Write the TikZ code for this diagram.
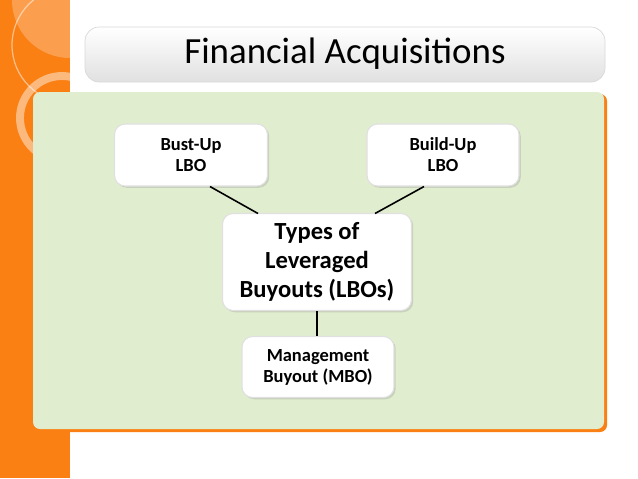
\documentclass[tikz,border=0pt]{standalone}
\usepackage{fontspec}
\setmainfont{Carlito}
\usetikzlibrary{shadows}
\definecolor{panel}{RGB}{224,237,207}
\definecolor{band}{RGB}{250,128,20}
\begin{document}
\begin{tikzpicture}[x=0.02cm,y=-0.02cm,
  box/.style={draw=black!12,line width=0.6pt,fill=white,rounded corners=6pt,font=\bfseries\fontsize{10.5}{12}\selectfont,align=center,inner sep=0pt,drop shadow={opacity=0.25,shadow xshift=1pt,shadow yshift=-1pt}},
  con/.style={line width=0.9pt,black}]
\useasboundingbox (0,0) rectangle (638,478);
\fill[white] (0,0) rectangle (638,478);
\fill[band] (0,0) rectangle (70,478);
\begin{scope}
\clip (0,0) rectangle (70,478);
\fill[white,opacity=0.25] (70,0) circle (58);
\draw[white,opacity=0.5,line width=0.7pt] (70,45) circle (58);
\draw[white,opacity=0.45,line width=4.5pt] (62,118) circle (42);
\end{scope}
\shade[top color=white,bottom color=black!12,rounded corners=8pt,draw=black!15] (85,27) rectangle (605,82);
\node (title) at (345,54) {\fontsize{21}{24}\selectfont Financial Acquisitions};
\fill[band,rounded corners=4pt] (35,94) rectangle (607,432);
\fill[panel,rounded corners=4pt] (33,92) rectangle (604,429);
\node[box,minimum width=3.06cm,minimum height=1.24cm] (bust) at (191,155) {Bust-Up\\LBO};
\node[box,minimum width=3.04cm,minimum height=1.24cm] (build) at (443,155) {Build-Up\\LBO};
\node[box,font=\bfseries\fontsize{14}{16.5}\selectfont,minimum width=3.78cm,minimum height=1.94cm] (types) at (317,262) {Types of\\Leveraged\\Buyouts (LBOs)};
\node[box,minimum width=3.04cm,minimum height=1.22cm] (mbo) at (318,367) {Management\\Buyout (MBO)};
\draw[con] (bust.south) ++(19,0) -- (258,213.5);
\draw[con] (build.south) ++(-19,0) -- (375,213.5);
\draw[con] (types.south) -- (types.south |- mbo.north);
\end{tikzpicture}
\end{document}
